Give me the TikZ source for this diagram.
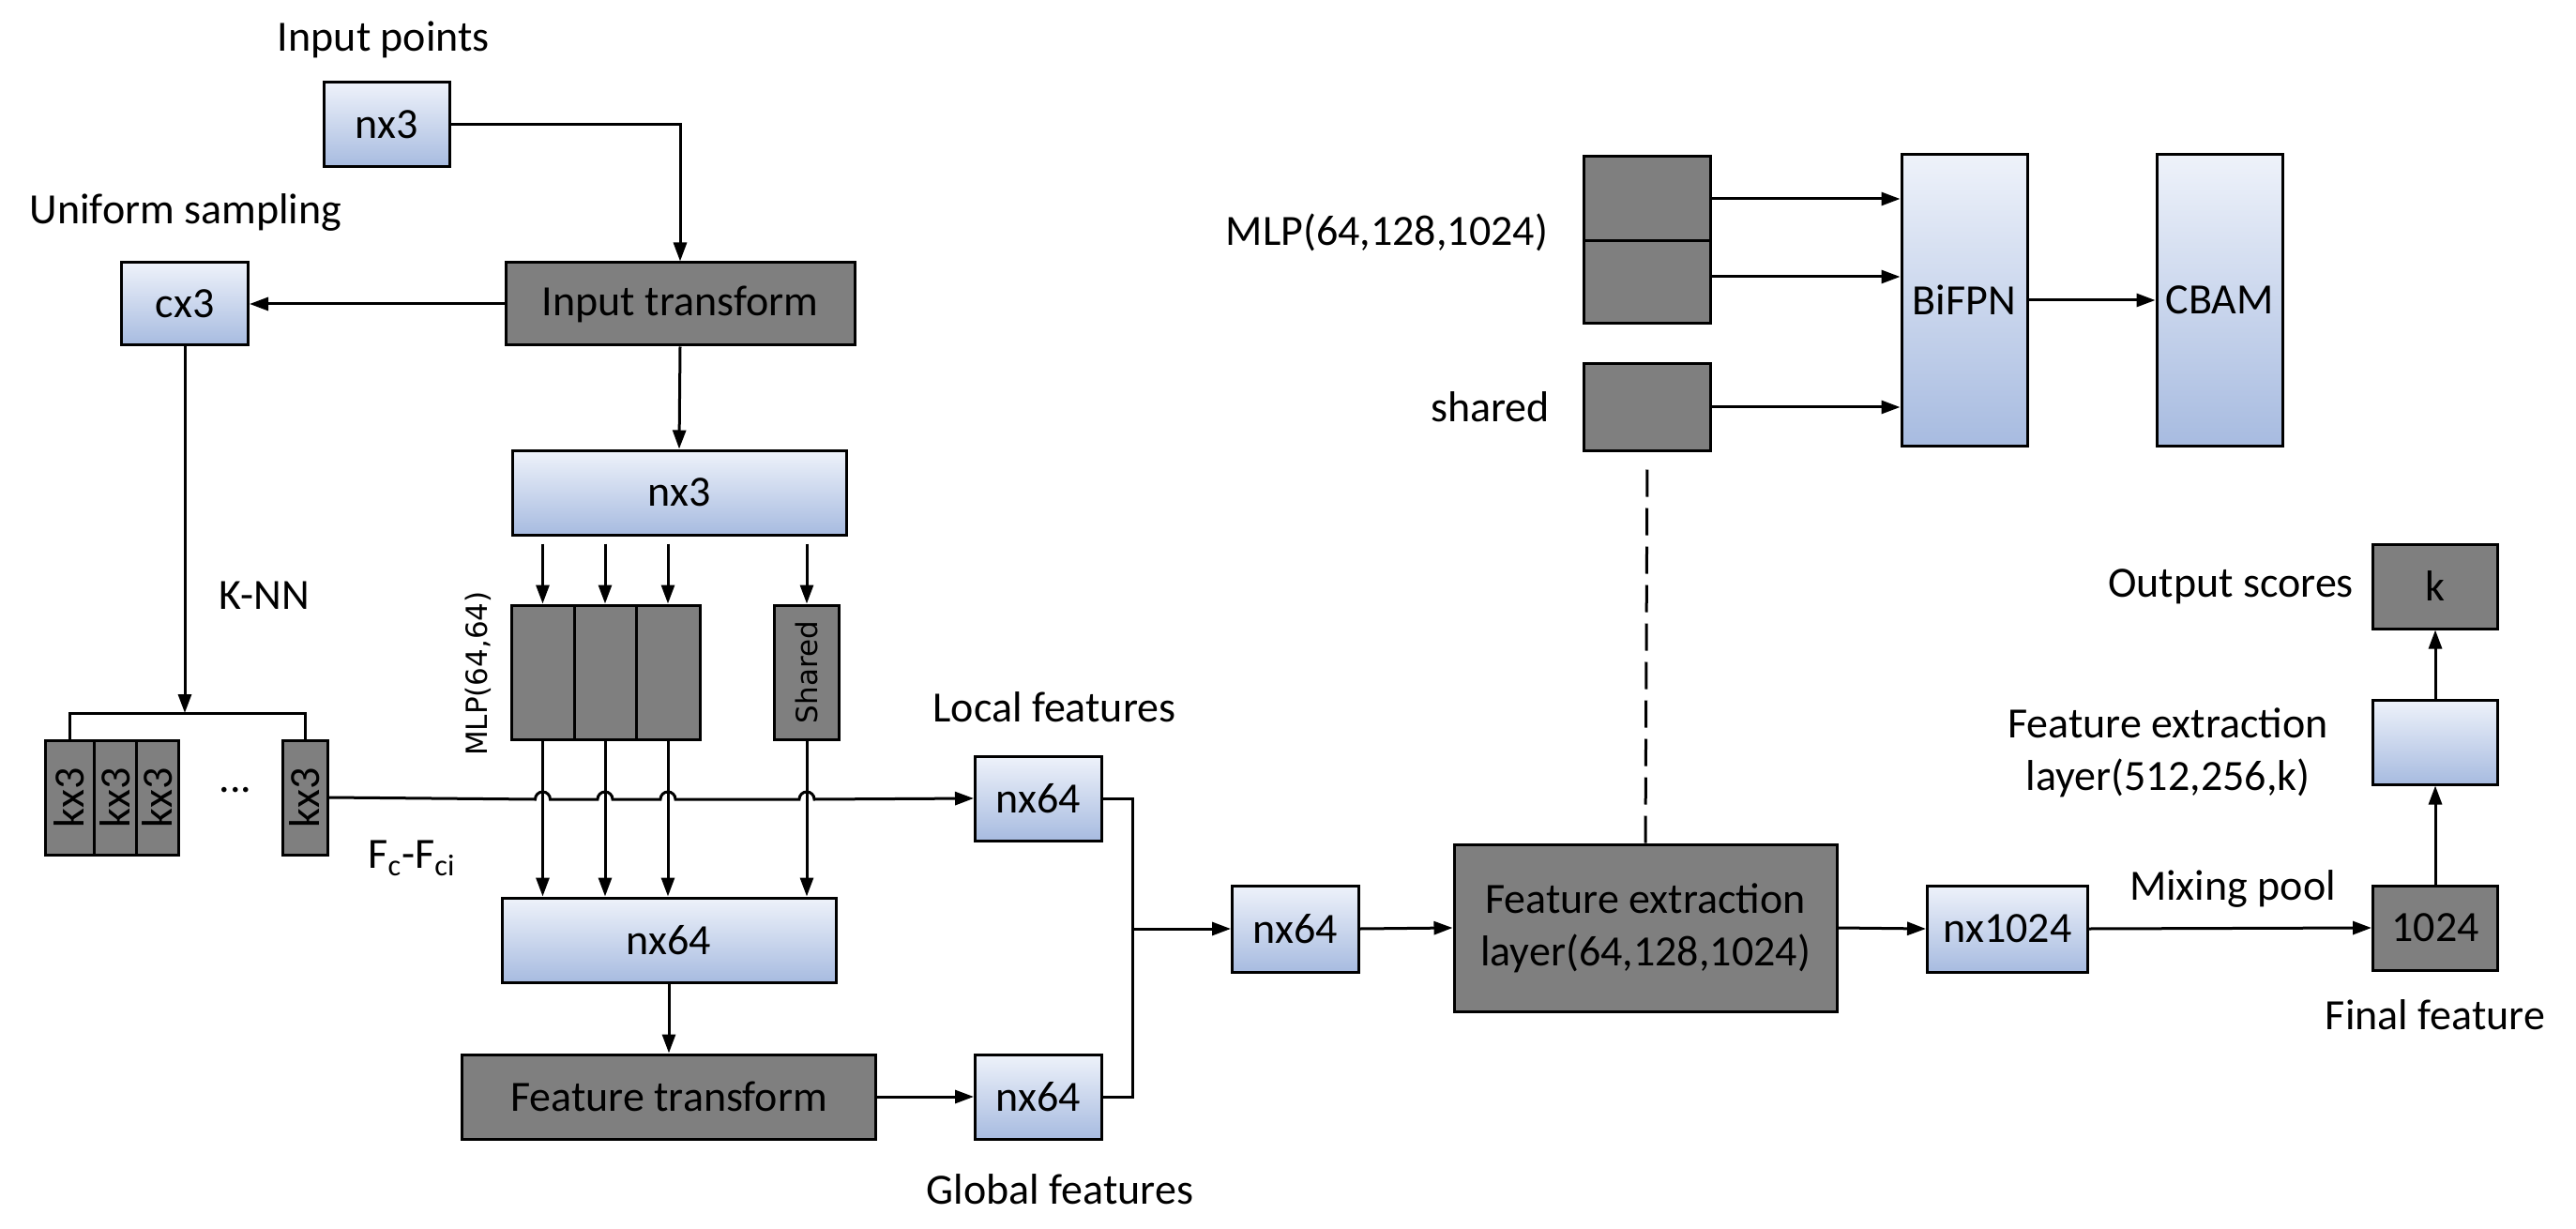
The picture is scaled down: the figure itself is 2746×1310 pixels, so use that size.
\documentclass[tikz,border=0pt]{standalone}
\usepackage{fontspec}
\setmainfont{Carlito}
\newfontfamily\dvs{DejaVu Sans}
\usetikzlibrary{arrows.meta}
\definecolor{dk}{HTML}{7F7F7F}
\definecolor{bt}{HTML}{EEF2FA}
\definecolor{bb}{HTML}{A7BBE0}
\begin{document}
\begin{tikzpicture}[x=0.5pt,y=-0.5pt,font=\fontsize{23}{28}\selectfont,
  ln/.style={line width=1.5pt},
  ar/.style={ln,-{Triangle[length=10pt,width=7pt]}},
  sz/.style 2 args={minimum width={#1*0.5pt},minimum height={#2*0.5pt}},
  dbox/.style={draw=black,line width=1.5pt,fill=dk,inner sep=0pt,align=center},
  bbox/.style={draw=black,line width=1.5pt,top color=bt,bottom color=bb,inner sep=0pt,align=center},
  vf/.style={font=\dvs\fontsize{15.5}{18}\selectfont}]
\useasboundingbox (0,0) rectangle (2746,1310);
% left part
\node (lip) at (409,42) {Input points};
\node[bbox,sz={134}{90}] (in) at (412,133) {nx3};
\node[dbox,sz={372}{88}] (it) at (725,324) {Input transform};
\node (lus) at (198,226) {Uniform sampling};
\node[bbox,sz={135}{88}] (cx) at (197,324) {cx3};
\node[bbox,sz={356}{90}] (n3) at (724,525) {nx3};
\node[dbox,sz={67}{143}] (m1) at (578.5,716.5) {};
\node[dbox,sz={66}{143}] (m2) at (645,716.5) {};
\node[dbox,sz={68}{143}] (m3) at (712,716.5) {};
\node[dbox,rotate=90,sz={143}{69},vf] (sh) at (860,716.5) {Shared};
\node[rotate=90,vf] (lmlp) at (510,718) {MLP(64,64)};
\node (lknn) at (282,635) {K-NN};
\node[dbox,rotate=90,sz={122}{52}] (k1) at (74,850) {kx3};
\node[dbox,rotate=90,sz={122}{45}] (k2) at (122.5,850) {kx3};
\node[dbox,rotate=90,sz={122}{45}] (k3) at (167.5,850) {kx3};
\node[dbox,rotate=90,sz={122}{48}] (k4) at (325,850) {kx3};
\node (ldots) at (251,842) {...};
\node (lfc) at (439,915) {F\textsubscript{c}-F\textsubscript{ci}};
\coordinate (br) at (197,760);
\node[bbox,sz={135}{90}] (nl) at (1107,851) {nx64};
\node (lloc) at (1124,754) {Local features};
\node[bbox,sz={356}{90}] (nw) at (713,1002) {nx64};
\node[dbox,sz={441}{90}] (ft) at (713,1169) {Feature transform};
\node[bbox,sz={135}{90}] (ng) at (1107,1169) {nx64};
\node (lglob) at (1130,1268) {Global features};
\coordinate (j) at (1207,990);
\node[bbox,sz={135}{92}] (nm) at (1381,990) {nx64};
% right part
\node[dbox,sz={408}{178}] (fe) at (1754,989) {Feature extraction\\layer(64,128,1024)};
\node[bbox,sz={171}{92}] (na) at (2140,990) {nx1024};
\node[dbox,sz={133}{90}] (fin) at (2596,989) {1024};
\node[bbox,sz={133}{90}] (fl) at (2596,791) {};
\node[dbox,sz={133}{90}] (k) at (2596,625) {k};
\node (lmix) at (2380,947) {Mixing pool};
\node (lfin) at (2596,1082) {Final feature};
\node[anchor=east] (lout) at (2516,625) {Output scores};
\node[align=center] (lfel) at (2311,802) {Feature extraction\\layer(512,256,k)};
\node[dbox,sz={135}{91}] (t1) at (1756,212) {};
\node[dbox,sz={135}{88}] (t2) at (1756,301) {};
\node[dbox,sz={135}{92}] (ts) at (1756,434) {};
\node[anchor=east] (lmlp2) at (1657,248) {MLP(64,128,1024)};
\node[anchor=east] (lsh) at (1659,434) {shared};
\node[bbox,sz={134}{310}] (bif) at (2094,320) {BiFPN};
\node[bbox,sz={134}{310}] (cbam) at (2366,320) {CBAM};
% connectors
\draw[ar] (in.east) -| (it.north);
\draw[ar] (it.west) -- (cx.east);
\draw[ar] (it.south) -- (n3.north);
\foreach \m in {m1,m2,m3}{
  \draw[ar] ([yshift=-4pt]n3.south -| \m.north) -- (\m.north);
  \draw[ar] (\m.south) -- (\m.south |- nw.north);
}
\draw[ar] ([yshift=-4pt]n3.south -| sh.east) -- (sh.east);
\draw[ar] (sh.west) -- (sh.west |- nw.north);
\draw[ar] (cx.south) -- (cx.south |- br);
\draw[ln] (k1.east) -- (k1.east |- br) -- (k4.east |- br) -- (k4.east);
\draw[ar] (k4.south) -- (570.5,852) arc[start angle=180,end angle=360,radius=8]
  -- (637,852) arc[start angle=180,end angle=360,radius=8]
  -- (704,852) arc[start angle=180,end angle=360,radius=8]
  -- (852,852) arc[start angle=180,end angle=360,radius=8] -- (nl.west);
\draw[ar] (nw.south) -- (ft.north);
\draw[ar] (ft.east) -- (ng.west);
\draw[ln] (nl.east) -| (j);
\draw[ln] (ng.east) -| (j);
\draw[ar] (j) -- (nm.west);
\draw[ar] (nm.east) -- (fe.west);
\draw[ar] (fe.east) -- (na.west);
\draw[ar] (na.east) -- (fin.west);
\draw[ar] (fin.north) -- (fl.south);
\draw[ar] (fl.north) -- (k.south);
\draw[ar] (t1.east) -- (t1.east -| bif.west);
\draw[ar] ([yshift=3pt]t2.east) -- ([yshift=3pt]t2.east -| bif.west);
\draw[ar] (ts.east) -- (ts.east -| bif.west);
\draw[ar] (bif.east) -- (cbam.west);
\draw[ln,dash pattern=on 14.5pt off 6pt,shorten >=6pt] (fe.north) -- (ts.south);
\end{tikzpicture}
\end{document}
